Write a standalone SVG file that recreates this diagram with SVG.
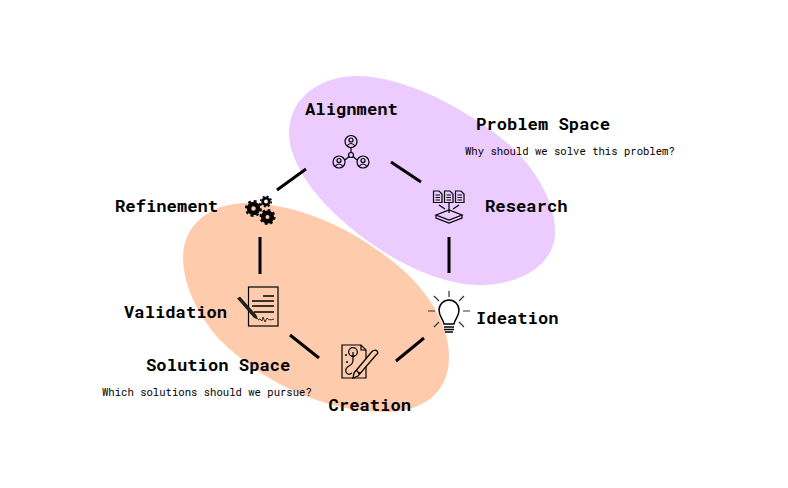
<svg xmlns="http://www.w3.org/2000/svg" width="788" height="488" viewBox="0 0 788 488">
<style>
text{font-family:"Roboto Mono","DejaVu Sans Mono","Liberation Mono",monospace;fill:#000}
.t{font-size:17.2px;font-weight:700}
.s{font-size:10.6px}
.c{stroke:#000;stroke-width:3;fill:none}
.i{stroke:#000;stroke-width:1.200;fill:none}
.g{stroke:#000;fill:none}
</style>
<rect width="788" height="488" fill="#fff"/>
<g id="solution-space"><path d="M183 257C183 225 210 203 247 203C300 203 360 232 403 270C430 295 449 325 449 357C449 395 420 412 385 412C328 412 264 384 220 340C198 316 183 285 183 257Z" fill="#ffcbad"/></g>
<g id="problem-space"><path d="M289 132C289 100 318 76 357 76C405 76 470 110 513 148C540 175 555 205 555 232C555 265 520 285 480 285C430 285 368 248 328 207C303 181 289 155 289 132Z" fill="#eccbff"/></g>
<g id="connectors">
<path class="c" d="M306 169L277 190M391 162L421 182M449 237V273M424 338L396 361M319 358L290 335M260 237V274"/>
</g>
<g id="alignment"><text class="t" x="305" y="115">Alignment</text>
<g class="i"><circle cx="351" cy="141.500" r="6"/><circle cx="339" cy="162" r="6"/><circle cx="363" cy="162" r="6"/><circle cx="351" cy="155" r="2.500"/><path d="M351 148V152.500M345 160L349 156.500M357 160L353 156.500"/><circle cx="351" cy="140" r="2"/><circle cx="339" cy="160.500" r="2"/><circle cx="363" cy="160.500" r="2"/><path d="M347 146Q351 141 355 146M335 166.500Q339 161.500 343 166.500M359 166.500Q363 161.500 367 166.500"/></g></g>
<g id="research"><text class="t" x="485" y="212">Research</text>
<g class="i"><path d="M433.500 191H439L442 194V202.500H433.500ZM444.500 191H450L453 194V202.500H444.500ZM455.500 191H461L464 194V202.500H455.500Z"/><path d="M435.500 195H440M435.500 197.500H440M435.500 200H440M446.500 195H451M446.500 197.500H451M446.500 200H451M457.500 195H462M457.500 197.500H462M457.500 200H462"/><path d="M436 215L449 210L462 215L449 220ZM436 215V218L449 223L462 218V215M439 205L445 209M449 203V213M459 205L453 209"/></g></g>
<g id="ideation"><text class="t" x="476" y="324">Ideation</text>
<g class="i"><path d="M444 324C443 318 439 317 439 310A10 10 0 0 1 459 310C459 317 455 318 454 324Z" stroke-width="1.500"/><path d="M444 327H454M444 329.500H454M445 332H453" stroke-width="1.500"/><path d="M449 291V297M434 296L439 301M464 296L459 301M428 311H435M463 311H470M434 327L439 322M464 327L459 322" stroke="#333"/></g></g>
<g id="creation"><text class="t" x="328.500" y="411">Creation</text>
<g class="i"><path d="M342 345H361L366 350V378H342Z"/><path d="M366 350H361V345"/><path d="M354 373L372 351.500Q375 349 377 351T376 355L358 376L353 378Z" fill="#ffcbad" stroke-width="1.300"/><path d="M356 370L360 374"/><circle cx="353" cy="352" r="4.300"/><path d="M351 356H355M353 352V356V360Q353 364 349 366T346 372Q348 376 352 373"/><path d="M346 354V356M347 361V363M359 372V374" stroke-width="1.500"/></g></g>
<g id="validation"><text class="t" x="124" y="318">Validation</text>
<g class="i"><rect x="248.500" y="287" width="29.500" height="39"/><path d="M263 296H274M252 301H274M252 306H274M254 312H274" stroke-width="1.300"/><path d="M258 320L260 319L262 321L263 317L265 322L267 318Q269 321 274 319" stroke-width=".8"/><path d="M237.500 298.500L240 297L256 315L257.500 319L254 317.500Z" fill="#222" stroke-width=".6"/></g></g>
<g id="refinement"><text class="t" x="115" y="212">Refinement</text>
<g><circle cx="253.500" cy="208.500" r="4.500" class="g" stroke-width="4.500"/><circle cx="253.500" cy="208.500" r="7.500" class="g" stroke-width="2" stroke-dasharray="2.900 3"/><circle cx="266" cy="201.500" r="3.300" class="g" stroke-width="2.800"/><circle cx="266" cy="201.500" r="5.300" class="g" stroke-width="1.500" stroke-dasharray="2 2.160"/><circle cx="267.500" cy="217" r="4.300" class="g" stroke-width="4.500"/><circle cx="267.500" cy="217" r="7" class="g" stroke-width="2" stroke-dasharray="2.700 2.800"/></g></g>
<g id="labels">
<text class="t" x="476" y="130">Problem Space</text>
<text class="s" x="465" y="155">Why should we solve this problem?</text>
<text class="t" x="146" y="371">Solution Space</text>
<text class="s" x="102" y="396">Which solutions should we pursue?</text>
</g>
</svg>
